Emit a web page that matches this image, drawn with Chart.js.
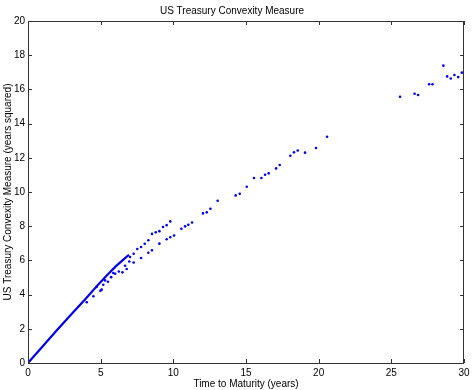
<!DOCTYPE html>
<html>
<head>
<meta charset="utf-8">
<script src="https://cdn.jsdelivr.net/npm/chart.js@4/dist/chart.umd.min.js"></script>
<style>
  html, body { margin: 0; padding: 0; background: #fff; }
  #wrap { width: 474px; height: 390px; }
</style>
</head>
<body>
<div id="wrap"><canvas id="chart"></canvas></div>
<script>
// dense short-maturity issues (they merge into a solid line in the original)
const curveMaturity = [0, 1, 2, 3, 4, 4.95, 5.45, 6, 6.5, 6.95];
const curveConvexity = [0, 0.97, 1.93, 2.87, 3.79, 4.70, 5.15, 5.62, 6.0, 6.33];

// individual issues
const bondMaturity = [
  4.04, 4.5, 4.73, 4.98, 5.07, 5.18, 5.3, 5.5, 5.72, 5.87, 6.0, 6.25, 6.5, 6.68, 6.79, 6.97, 7.27,
  7.78, 8.28, 8.53, 9.04, 9.54, 9.79, 10.05, 10.55, 10.81, 11.03, 11.29,
  7.02, 7.27, 7.52, 7.78, 8.03, 8.28, 8.53, 8.79, 9.04, 9.29, 9.54, 9.79,
  12.04, 12.30, 12.55, 13.05, 14.29, 14.57, 15.05, 15.55, 16.06, 16.31, 16.56,
  17.07, 17.32, 18.05, 18.30, 18.56, 19.06, 19.82, 20.58,
  25.6, 26.6, 26.84, 27.6, 27.83, 28.58, 28.84, 29.09, 29.34, 29.6, 29.85
];
const bondConvexity = [
  3.55, 3.9, 4.45, 4.22, 4.29, 4.58, 4.83, 4.75, 5.02, 5.26, 5.22, 5.35, 5.3, 5.69, 5.5, 5.94, 5.88,
  6.14, 6.45, 6.59, 6.98, 7.24, 7.35, 7.46, 7.85, 7.99, 8.08, 8.22,
  6.2, 6.39, 6.67, 6.78, 6.97, 7.18, 7.55, 7.65, 7.71, 7.95, 8.06, 8.28,
  8.75, 8.81, 9.02, 9.49, 9.80, 9.90, 10.31, 10.82, 10.82, 11.01, 11.09,
  11.38, 11.58, 12.12, 12.32, 12.43, 12.30, 12.57, 13.23,
  15.57, 15.75, 15.67, 16.3, 16.3, 17.39, 16.76, 16.64, 16.84, 16.72, 16.98
];

const xTicks = [0, 5, 10, 15, 20, 25, 30];
const yTicks = [0, 2, 4, 6, 8, 10, 12, 14, 16, 18, 20];

const FONT = "'Liberation Sans', Arial, Helvetica, sans-serif";
const BLUE = "#0000ee";

// MATLAB style box with inward ticks on all four sides
const matlabFrame = {
  id: "matlabFrame",
  afterDatasetsDraw(chart) {
    const { ctx, chartArea: a, scales } = chart;
    const len = 4;
    ctx.save();
    ctx.strokeStyle = "#333";
    ctx.lineWidth = 1;
    ctx.strokeRect(a.left + 0.5, a.top + 0.5, a.right - a.left - 1, a.bottom - a.top);
    ctx.beginPath();
    xTicks.forEach((v) => {
      const px = Math.round(scales.x.getPixelForValue(v)) + 0.5;
      ctx.moveTo(px, a.bottom);
      ctx.lineTo(px, a.bottom - len);
      ctx.moveTo(px, a.top);
      ctx.lineTo(px, a.top + len);
    });
    yTicks.forEach((v) => {
      const py = Math.round(scales.y.getPixelForValue(v)) + 0.5;
      ctx.moveTo(a.left, py);
      ctx.lineTo(a.left + len, py);
      ctx.moveTo(a.right, py);
      ctx.lineTo(a.right - len, py);
    });
    ctx.stroke();
    ctx.restore();
  },
};

new Chart(document.getElementById("chart"), {
  type: "scatter",
  data: {
    datasets: [
      {
        type: "line",
        label: "short",
        data: curveMaturity.map((m, i) => ({ x: m, y: curveConvexity[i] })),
        borderColor: BLUE,
        borderWidth: 2.2,
        pointRadius: 0,
        fill: false,
        tension: 0,
      },
      {
        label: "bonds",
        data: bondMaturity.map((m, i) => ({ x: m, y: bondConvexity[i] })),
        backgroundColor: BLUE,
        borderWidth: 0,
        pointRadius: 1.3,
      },
    ],
  },
  options: {
    responsive: true,
    maintainAspectRatio: false,
    animation: false,
    layout: { padding: { top: 0, right: 10, bottom: 0, left: 0 } },
    plugins: {
      legend: { display: false },
      tooltip: { enabled: false },
      title: {
        display: true,
        text: "US Treasury Convexity Measure",
        color: "#000",
        font: { family: FONT, size: 10, weight: "normal" },
        padding: { top: 5, bottom: 4 },
      },
    },
    scales: {
      x: {
        type: "linear",
        min: 0,
        max: 30,
        afterFit: (s) => { s.height = 27; },
        grid: { display: false, drawTicks: false },
        border: { display: false },
        ticks: {
          stepSize: 5,
          padding: 4,
          color: "#000",
          font: { family: FONT, size: 10 },
          maxRotation: 0,
        },
        title: {
          display: true,
          text: "Time to Maturity (years)",
          color: "#000",
          font: { family: FONT, size: 10 },
          padding: { top: 0, bottom: 0 },
        },
      },
      y: {
        type: "linear",
        min: 0,
        max: 20,
        afterFit: (s) => { s.width = 28; },
        grid: { display: false, drawTicks: false },
        border: { display: false },
        ticks: {
          stepSize: 2,
          padding: 3,
          color: "#000",
          font: { family: FONT, size: 10 },
        },
        title: {
          display: true,
          text: "US Treasury Convexity Measure (years squared)",
          color: "#000",
          font: { family: FONT, size: 10 },
          padding: { top: 2, bottom: 0 },
        },
      },
    },
  },
  plugins: [matlabFrame],
});
</script>
</body>
</html>
